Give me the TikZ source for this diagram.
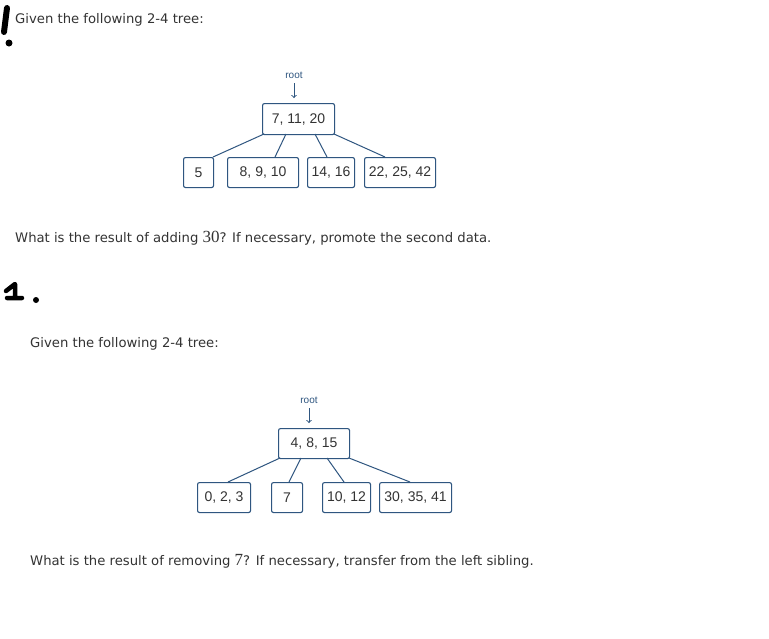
\documentclass[tikz,border=0pt]{standalone}
\usepackage{fontspec}
\setmainfont{DejaVu Sans}
\newfontfamily\boxfont{Liberation Sans}
\newfontfamily\numfont{Liberation Serif}
\begin{document}
\begin{tikzpicture}[x=1pt,y=-1pt,
  bx/.style={draw=edgec,line width=1.1pt,rounded corners=2pt,anchor=north west,inner sep=0pt,font=\boxfont\fontsize{14}{15}\selectfont,text=txt},
  ln/.style={draw=edgec,line width=1pt},
  lab/.style={font=\boxfont\fontsize{10}{11}\selectfont,text=edgec},
  para/.style={anchor=west,font=\fontsize{13.2}{15}\selectfont,text=txt,inner sep=0pt}]
\definecolor{edgec}{HTML}{2F5680}
\definecolor{txt}{HTML}{333333}
\useasboundingbox (0,0) rectangle (769,638);
\fill[white] (0,0) rectangle (769,638);
% handwritten marks
\draw[line width=6pt,line cap=round] (7,8) -- (4,32);
\fill (9,43) circle (3.5);
\draw[line width=4.5pt,line cap=round,line join=round] (6,291) -- (15,284) -- (15,298) (7,298) -- (22,298);
\fill (36,300) circle (3);
% texts
\node[para] (t1) at (15,20) {Given the following 2-4 tree:};
\node[para] (t2) at (15,238) {What is the result of adding {\numfont\fontsize{17}{17}\selectfont 30}? If necessary, promote the second data.};
\node[para] (t3) at (30,344) {Given the following 2-4 tree:};
\node[para] (t4) at (30,561) {What is the result of removing {\numfont\fontsize{17}{17}\selectfont 7}? If necessary, transfer from the left sibling.};
% tree 1
\node[lab] (r1) at (294,75) {root};
\node[bx,minimum width=72,minimum height=31] (a) at (262,103) {7, 11, 20};
\draw[edgec,line width=1pt,->] (294,83) -- (294,98);
\node[bx,minimum width=30,minimum height=30] (a1) at (183,157) {5};
\node[bx,minimum width=71,minimum height=30] (a2) at (227,157) {8, 9, 10};
\node[bx,minimum width=47,minimum height=30] (a3) at (307,157) {14, 16};
\node[bx,minimum width=71,minimum height=30] (a4) at (364,157) {22, 25, 42};
\draw[ln] (264,134) -- (213,157);
\draw[ln] (286,134) -- (275,157);
\draw[ln] (315,134) -- (327,157);
\draw[ln] (334,134) -- (385,157);
% tree 2
\node[lab] (r2) at (309,400) {root};
\node[bx,minimum width=71,minimum height=30] (b) at (278,428) {4, 8, 15};
\draw[edgec,line width=1pt,->] (309,408) -- (309,423);
\node[bx,minimum width=53,minimum height=30] (b1) at (197,482) {0, 2, 3};
\node[bx,minimum width=31,minimum height=30] (b2) at (271,482) {7};
\node[bx,minimum width=48,minimum height=30] (b3) at (322,482) {10, 12};
\node[bx,minimum width=72,minimum height=30] (b4) at (379,482) {30, 35, 41};
\draw[ln] (280,458) -- (228,482);
\draw[ln] (301,458) -- (289,482);
\draw[ln] (327,458) -- (344,482);
\draw[ln] (349,458) -- (410,482);
\end{tikzpicture}
\end{document}
